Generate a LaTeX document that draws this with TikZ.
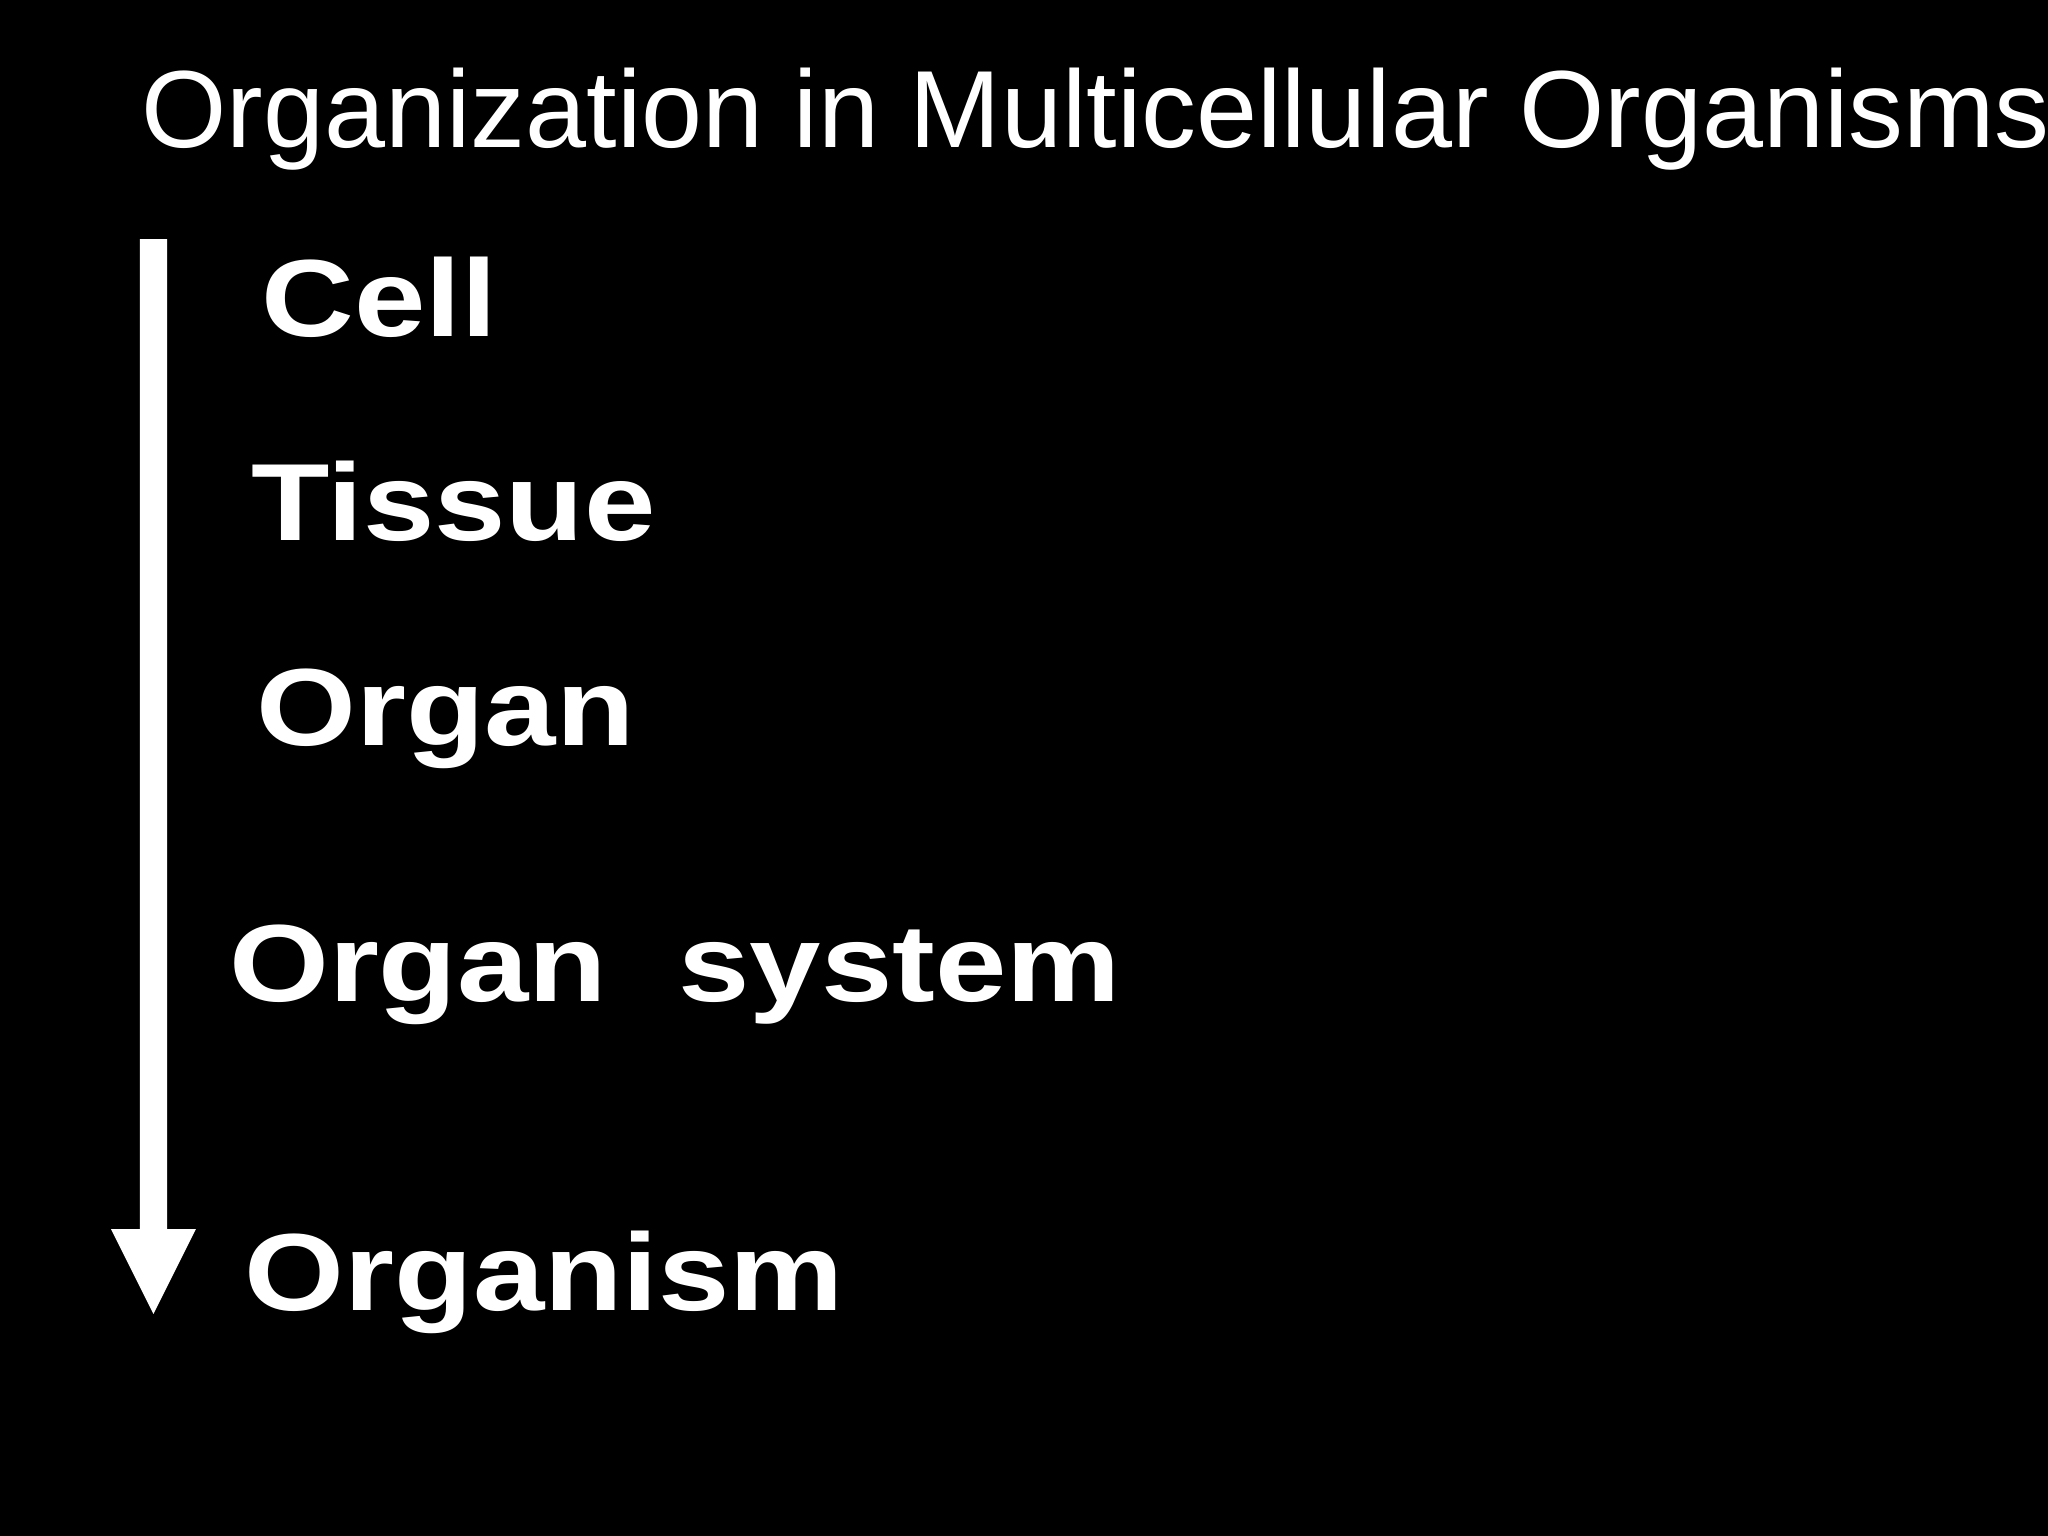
\documentclass[tikz,border=0pt]{standalone}
\usepackage{fontspec}
\setmainfont{Liberation Sans}
\begin{document}
\begin{tikzpicture}[x=0.5pt,y=-0.5pt,
  lvl/.style={anchor=base west,inner sep=0pt,text=white,font=\fontsize{42}{48}\selectfont\bfseries,xscale=1.17},
  ttl/.style={anchor=base west,inner sep=0pt,text=white,font=\fontsize{42}{48}\selectfont}]
\fill[black] (0,0) rectangle (1568,1176);
\useasboundingbox (0,0) rectangle (1568,1176);
\node[ttl] (title) at (108,113) {Organization in Multicellular Organisms};
\fill[white] (107,183) -- (128,183) -- (128,941) -- (150,941) -- (117.5,1006) -- (85,941) -- (107,941) -- cycle;
\node[lvl] (cell) at (200,258) {Cell};
\node[lvl] (tissue) at (192,414) {Tissue};
\node[lvl] (organ) at (196,571) {Organ};
\node[lvl] (system) at (175,767) {Organ\ \ system};
\node[lvl] (organism) at (187,1003) {Organism};
\end{tikzpicture}
\end{document}
